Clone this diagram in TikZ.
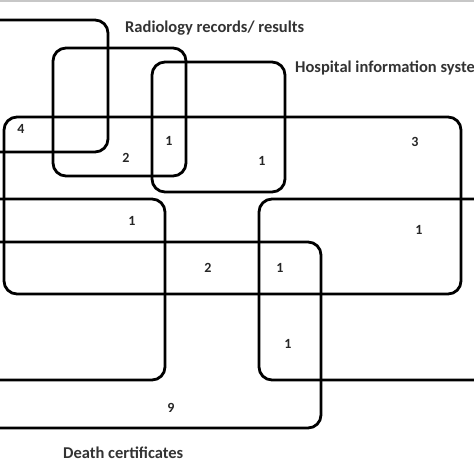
\documentclass[tikz,border=0pt]{standalone}
\usepackage{fontspec}
\setmainfont{Carlito}
\begin{document}
\begin{tikzpicture}[x=1pt,y=-1pt,
  setbox/.style={draw=black,line width=2.8pt,rounded corners=13pt},
  lbl/.style={font=\fontsize{16.5}{18}\selectfont\bfseries,text=black!80,inner sep=0pt},
  num/.style={font=\fontsize{14}{15}\selectfont\bfseries,text=black!85,inner sep=0pt}]
\useasboundingbox (0,0) rectangle (474,474);
\fill[white] (0,0) rectangle (474,474);
\fill[black!22] (0,0) rectangle (474,2);
\begin{scope}
\clip (0,2) rectangle (474,474);
% Radiology records
\draw[setbox] (-30,20) rectangle (108,152);
% second box
\draw[setbox] (53,48) rectangle (186,176);
% Hospital information system
\draw[setbox] (152,62) rectangle (285,192);
% large box
\draw[setbox] (4,117) rectangle (461,294);
% left lower box
\draw[setbox] (-30,199) rectangle (165,380);
% Death certificates
\draw[setbox] (-30,242) rectangle (321,428);
% right lower box
\draw[setbox] (259,199) rectangle (500,380);
\end{scope}
\node[lbl,anchor=west] (hosp) at (295,68) {Hospital information syste};
\node[lbl,anchor=west] (radio) at (125,28) {Radiology records/ results};
\node[lbl,anchor=west] (death) at (63,453) {Death certificates};
\node[num] (n4) at (21,129) {4};
\node[num] (n2a) at (126,158) {2};
\node[num] (n1a) at (169,141) {1};
\node[num] (n1b) at (262,161) {1};
\node[num] (n3) at (415,142) {3};
\node[num] (n1c) at (132,221) {1};
\node[num] (n1d) at (419,230) {1};
\node[num] (n2b) at (208,268) {2};
\node[num] (n1e) at (280,268) {1};
\node[num] (n1f) at (288,344) {1};
\node[num] (n9) at (171,408) {9};
\end{tikzpicture}
\end{document}
